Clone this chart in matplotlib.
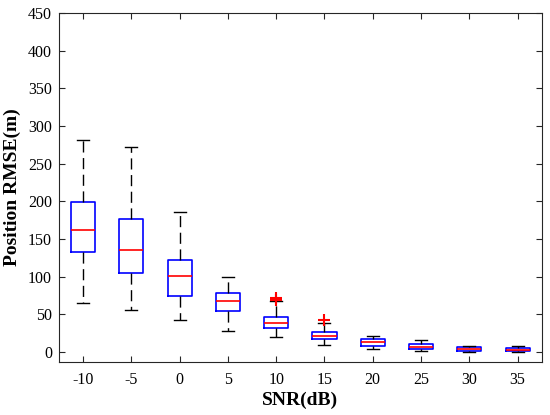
import matplotlib
matplotlib.use("Agg")
from matplotlib import pyplot as plt

snr_labels = ["-10", "-5", "0", "5", "10", "15", "20", "25", "30", "35"]
medians = [161.6, 136, 101, 67.3, 38, 21.7, 12.8, 7, 4.4, 2.7]
q1 = [133, 105, 75, 54.4, 32, 16.8, 8, 4.4, 1.7, 0.8]
q3 = [199, 176.6, 121.7, 78, 46.5, 27, 16.8, 11, 6.2, 4.9]
whis_low = [65, 56, 42.5, 28, 19.5, 9.7, 3.5, 1.3, 0.2, 0.2]
whis_high = [281, 272.6, 186, 99.6, 67.3, 39, 21.7, 15.5, 8.4, 7.5]
outliers = [[], [], [], [], [69, 72], [42], [], [], [], []]

stats = []
for i in range(len(snr_labels)):
    stats.append({
        "med": medians[i],
        "q1": q1[i],
        "q3": q3[i],
        "whislo": whis_low[i],
        "whishi": whis_high[i],
        "fliers": outliers[i],
        "label": snr_labels[i],
    })

plt.rcParams["font.family"] = ["Liberation Serif", "DejaVu Serif"]

fig = plt.figure(figsize=(5.5, 4.15), dpi=100)
ax = fig.add_axes([0.107, 0.128, 0.878, 0.841])

ax.bxp(stats,
       widths=0.5,
       boxprops=dict(color="blue", linewidth=1.2),
       medianprops=dict(color="red", linewidth=1.2),
       whiskerprops=dict(color="black", linewidth=1.0, linestyle=(0, (8, 4))),
       capprops=dict(color="black", linewidth=1.0),
       flierprops=dict(marker="+", markeredgecolor="red", markersize=8, markeredgewidth=1.5),
       capwidths=0.25)

ax.set_xlim(0.5, 10.5)
ax.set_ylim(-13, 450)
ax.set_yticks(range(0, 451, 50))
ax.tick_params(direction="in", top=True, right=True, labelsize=11.5, color="#262626", length=4)
ax.tick_params(axis="x", pad=7)
ax.tick_params(axis="y", pad=5)
for spine in ax.spines.values():
    spine.set_color("#262626")
ax.set_xlabel("SNR(dB)", fontsize=14, fontweight="bold", labelpad=3)
ax.set_ylabel("Position RMSE(m)", fontsize=14, fontweight="bold", labelpad=5)

fig.savefig("out.png", dpi=100)
